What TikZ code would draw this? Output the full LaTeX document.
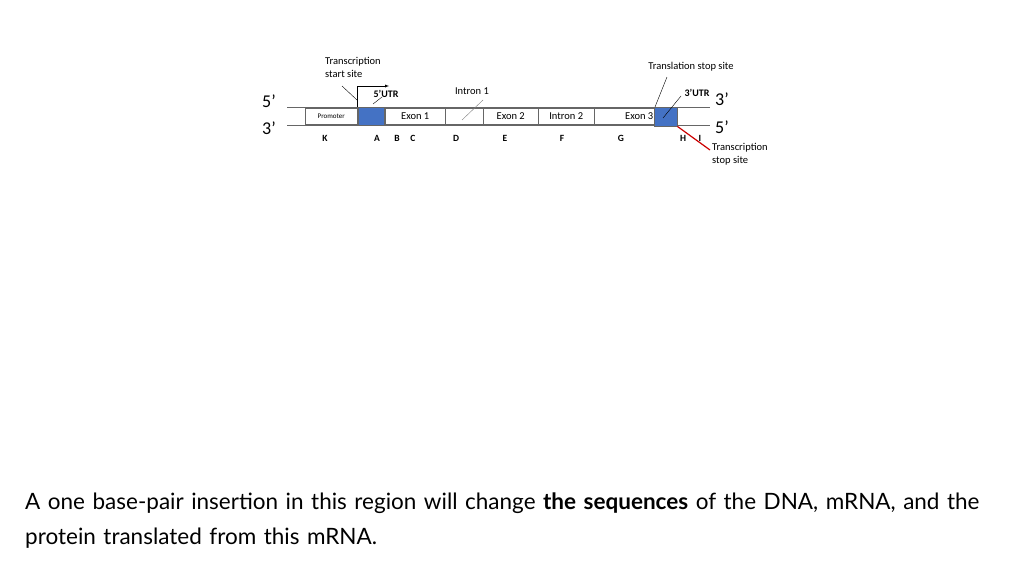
\documentclass[tikz,border=0pt]{standalone}
\usepackage{fontspec}
\setmainfont{Carlito}
\newfontfamily\lato{Lato}
\begin{document}
\begin{tikzpicture}[x=1pt,y=-1pt,
  lbl/.style={inner sep=0pt,font=\fontsize{10.5}{13}\selectfont},
  blbl/.style={inner sep=0pt,font=\bfseries\fontsize{10}{12}\selectfont},
  let/.style={inner sep=0pt,font=\bfseries\fontsize{9.5}{11}\selectfont},
  seg/.style={draw=black!60,line width=0.5pt,inner sep=0pt,anchor=north west,minimum height=16},
  utr/.style={draw=black!60,inner sep=0pt,anchor=north west,fill={rgb,255:red,68;green,114;blue,196}},
  end/.style={inner sep=0pt,font=\fontsize{18}{20}\selectfont}]
\useasboundingbox (0,0) rectangle (1024,574);
% strands
\draw[black!60,line width=0.5pt] (287,107) -- (710,107);
\draw[black!60,line width=0.5pt] (287,125) -- (710,125);
\node[seg,minimum width=52] (prom) at (305,108) {};
\node[lbl,font=\fontsize{7}{8}\selectfont] at (prom) {Promoter};
\node[utr,minimum width=26,minimum height=18] (utr5) at (358,107) {};
\node[seg,minimum width=60] (ex1) at (385,108) {};
\node[lbl] at (ex1) {Exon 1};
\node[seg,minimum width=38] (in1) at (445,108) {};
\node[seg,minimum width=55] (ex2) at (483,108) {};
\node[lbl] at (ex2) {Exon 2};
\node[seg,minimum width=56] (in2) at (538,108) {};
\node[lbl] at (in2) {Intron 2};
\node[seg,minimum width=60] (ex3) at (594,108) {};
\node[lbl,anchor=east] at ([xshift=-1]ex3.east) {Exon 3};
\node[utr,minimum width=23,minimum height=19] (utr3) at (654,107) {};
% ends
\node[end] (f5) at (269,101) {5’};
\node[end] (f3) at (269,128) {3’};
\node[end] (r3) at (722,99) {3’};
\node[end] (r5) at (722,127) {5’};
% letters
\foreach \t/\x in {K/325,A/377,B/397,C/413,D/456,E/505,F/562,G/621,H/683,I/700}
  \node[let] (L\t) at (\x,138) {\t};
% labels
\node[lbl,align=left,anchor=north west] (tss) at (325,57) {Transcription\\start site};
\draw (357,107) -- (357,86);
\draw[-latex] (357,86) -- (389,86);
\draw (342,86) -- (357,100);
\node[blbl] (u5) at (386,94) {5’UTR};
\draw (373,104) -- (382,97);
\node[lbl] (i1) at (472,91) {Intron 1};
\draw[black!50] (462,120) -- (483,100);
\node[lbl] (tls) at (691,67) {Translation stop site};
\draw (655,107) -- (667,77);
\node[blbl] (u3) at (697,93) {3’UTR};
\draw (663,118) -- (681,96);
\draw[red!80!black,line width=1.2pt] (utr3.south east) -- (710,150);
\node[lbl,align=left,anchor=north west] (trs) at (712,143) {Transcription\\stop site};
% caption
\node[inner sep=0pt,anchor=north west,align=left,text width=995,font=\lato\fontsize{22.5}{35}\selectfont] (cap) at (25,493)
 {A one base-pair insertion in this region will change \textbf{the sequences} of the DNA, mRNA, and the\\protein translated from this mRNA.};
\end{tikzpicture}
\end{document}
